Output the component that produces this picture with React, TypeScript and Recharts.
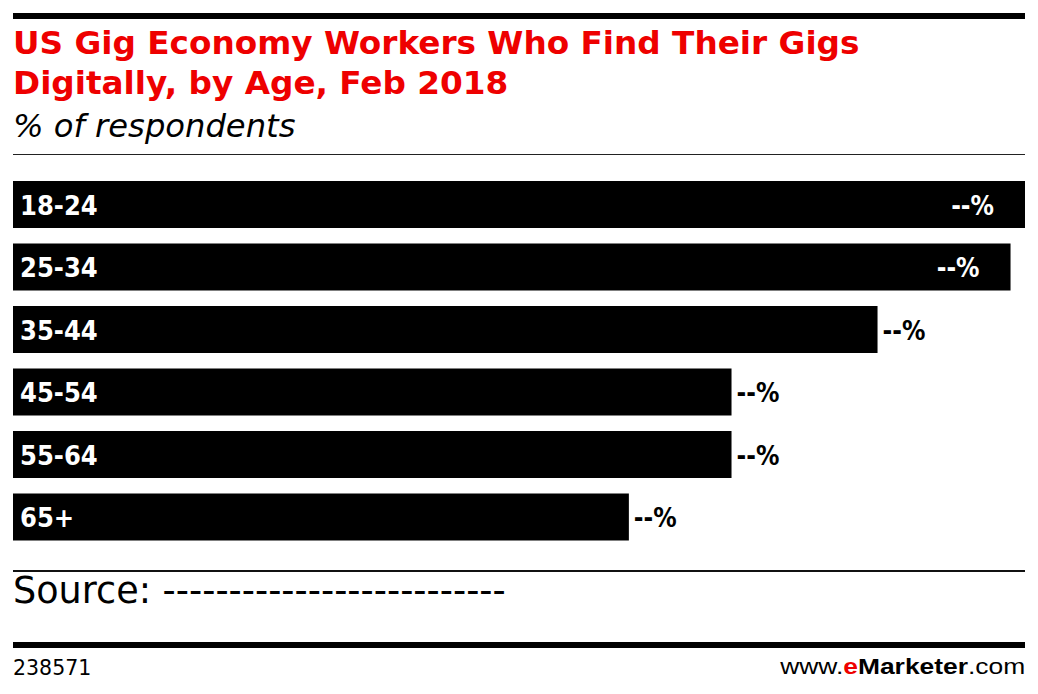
import { BarChart, Bar, XAxis, YAxis, LabelList } from 'recharts'

// Age groups and estimated shares (values are hidden as "--%" in the source)
const ages = ['18-24', '25-34', '35-44', '45-54', '55-64', '65+']
const shares = [70, 69, 59.8, 49.7, 49.7, 42.6]
const valueText = '--%'

const data = ages.map((age, i) => ({ age, share: shares[i] }))

const W = 1038
const H = 694
const PLOT_RIGHT = 1025
const sans = "'DejaVu Sans', sans-serif"
const condensed = "'DejaVu Sans Condensed', 'DejaVu Sans', sans-serif"

// Age name drawn inside the left end of each bar
function AgeLabel(props: any) {
  const { x, y, height, value } = props
  return (
    <text
      x={x + 7}
      y={y + height / 2 + 10}
      fill="#fff"
      fontFamily={condensed}
      fontWeight="bold"
      fontSize={27}
    >
      {value}
    </text>
  )
}

// Value label: inside the bar when it would not fit outside
function ValueLabel(props: any) {
  const { x, y, width, height } = props
  const end = x + width
  const inside = end + 6 + 45 > PLOT_RIGHT
  return (
    <text
      x={inside ? end - 31 : end + 5}
      y={y + height / 2 + 10}
      textAnchor={inside ? 'end' : 'start'}
      fill={inside ? '#fff' : '#000'}
      fontFamily={condensed}
      fontWeight="bold"
      fontSize={26}
    >
      {valueText}
    </text>
  )
}

export default function App() {
  return (
    <div
      style={{
        position: 'absolute',
        left: 0,
        top: 0,
        width: W,
        height: H,
        background: '#fff',
        overflow: 'hidden',
      }}
    >
      {/* top rule */}
      <div style={{ position: 'absolute', left: 13, top: 13, width: 1012, height: 6, background: '#000' }} />

      {/* title */}
      <div
        style={{
          position: 'absolute',
          left: 13,
          top: 24,
          fontFamily: sans,
          fontWeight: 'bold',
          fontSize: 32.7,
          lineHeight: '39.5px',
          color: '#ee0000',
          whiteSpace: 'nowrap',
        }}
      >
        US Gig Economy Workers Who Find Their Gigs
        <br />
        Digitally, by Age, Feb 2018
      </div>
      <div
        style={{
          position: 'absolute',
          left: 13,
          top: 106,
          fontFamily: sans,
          fontStyle: 'italic',
          fontSize: 32.2,
          lineHeight: '40px',
          color: '#000',
          whiteSpace: 'nowrap',
        }}
      >
        % of respondents
      </div>
      <div style={{ position: 'absolute', left: 13, top: 153.5, width: 1012, height: 1.5, background: '#222' }} />

      {/* chart */}
      <div style={{ position: 'absolute', left: 0, top: 0 }}>
        <BarChart
          width={W}
          height={H}
          data={data}
          layout="vertical"
          margin={{ top: 173, right: 13, bottom: 146, left: 13 }}
        >
          <XAxis type="number" domain={[0, 70]} hide />
          <YAxis type="category" dataKey="age" hide />
          <Bar dataKey="share" fill="#000" barSize={47} isAnimationActive={false}>
            <LabelList dataKey="age" content={AgeLabel} />
            <LabelList dataKey="share" content={ValueLabel} />
          </Bar>
        </BarChart>
      </div>

      {/* source */}
      <div style={{ position: 'absolute', left: 13, top: 570, width: 1012, height: 1.5, background: '#111' }} />
      <div
        style={{
          position: 'absolute',
          left: 13,
          top: 570.5,
          fontFamily: sans,
          fontSize: 36.6,
          lineHeight: '40px',
          color: '#000',
          whiteSpace: 'nowrap',
        }}
      >
        Source: --------------------------
      </div>

      {/* footer */}
      <div style={{ position: 'absolute', left: 13, top: 642, width: 1012, height: 6, background: '#000' }} />
      <div
        style={{
          position: 'absolute',
          left: 13,
          top: 656,
          fontFamily: sans,
          fontSize: 20.5,
          lineHeight: '24px',
          color: '#000',
        }}
      >
        238571
      </div>
      <div
        style={{
          position: 'absolute',
          right: W - 1025,
          top: 655,
          fontFamily: "'Liberation Sans', Arial, sans-serif",
          fontSize: 22,
          lineHeight: '24px',
          color: '#000',
          whiteSpace: 'nowrap',
          transform: 'scaleX(1.2)',
          transformOrigin: 'right center',
        }}
      >
        www.
        <b>
          <span style={{ color: '#ee0000' }}>e</span>Marketer
        </b>
        .com
      </div>
    </div>
  )
}
